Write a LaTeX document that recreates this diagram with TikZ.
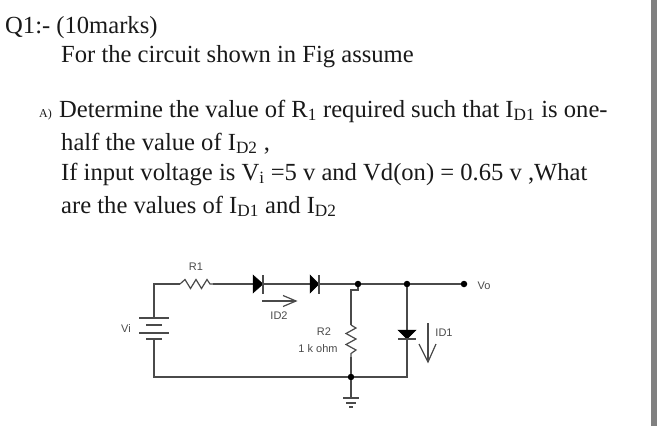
\documentclass[tikz,border=0pt]{standalone}
\usepackage{fontspec}
\setmainfont{Liberation Serif}
\newfontfamily\labelfont{Liberation Sans}
\usetikzlibrary{positioning,calc}
\definecolor{wire}{HTML}{4A4A4A}
\begin{document}
\begin{tikzpicture}[
        x=1pt, y=-1pt,
        txt/.style={anchor=base west, inner sep=0pt, font=\fontsize{24.6}{24.6}\selectfont, text=black!90},
        lbl/.style={inner sep=0pt, font=\labelfont\fontsize{11}{11}\selectfont, text=wire},
        dot/.style={circle, fill=black, inner sep=0pt, minimum size=6.5pt},
        wireline/.style={draw=wire, line width=1.2pt},
        solid diode/.style={fill=black, draw=black, line width=0.5pt}
    ]
        \useasboundingbox (0,0) rectangle (661,426);
        \fill[black!50] (651,0) rectangle (657,426);

        \node[txt] (title) at (5,33) {Q1:- (10marks)};
        \node[txt] (intro) at (61,62) {For the circuit shown in Fig assume};
        \node[txt, font=\fontsize{12}{12}\selectfont] (parta) at (39,117) {A)};
        \node[txt] (line1) at (59,117) {Determine the value of R\textsubscript{1} required such that I\textsubscript{D1} is one-};
        \node[txt] (line2) at (61,150) {half the value of I\textsubscript{D2} ,};
        \node[txt] (line3) at (61,180) {If input voltage is V\textsubscript{i} =5 v and Vd(on) = 0.65 v ,What};
        \node[txt] (line4) at (61,213) {are the values of I\textsubscript{D1} and I\textsubscript{D2}};

        \coordinate (topleft) at (154,284);
        \coordinate (botleft) at (154,377);
        \coordinate (rOnea) at (180,284);
        \coordinate (rOneb) at (213,284);
        \coordinate (rTwoa) at (351,325);
        \coordinate (rTwob) at (351,357);
        \coordinate (corner) at (351,290);
        \coordinate (batTop) at (154,318);
        \coordinate (batBot) at (154,339);
        \coordinate (gnd) at (351,398);
        \coordinate (botright) at (407,377);
        \node[dot] (jOne) at (358,284) {};
        \node[dot] (jTwo) at (407,284) {};
        \node[dot] (vout) at (464,284) {};
        \node[dot] (jBot) at (351,377) {};

        \draw[wireline] (batTop) -- (topleft) -- (rOnea);
        \draw[wireline] (rOnea) -- ++(5,-4.5) -- ++(5.5,9) -- ++(5.5,-9) -- ++(5.5,9) -- ++(5.5,-9) -- ++(3,4.5) -- (rOneb);
        \draw[wireline] (rOneb) -- (jOne) -- (jTwo) -- (vout);
        \draw[wireline] (jOne) -- (358,290) -- (corner) -- (rTwoa);
        \draw[wireline] (rTwoa) -- ++(5,3) -- ++(-10,5.5) -- ++(10,5.5) -- ++(-10,5.5) -- ++(10,5.5) -- ++(-5,3.5) -- (rTwob);
        \draw[wireline] (rTwob) -- (jBot) -- (gnd);
        \draw[wireline] (batBot) -- (botleft) -- (jBot) -- (botright) -- (jTwo);

        \draw[wireline] (139,318) -- (169,318);
        \draw[wireline] (146,325) -- (162,325);
        \draw[wireline] (139,333) -- (169,333);
        \draw[wireline] (146,339) -- (162,339);

        \draw[wireline] (343,398) -- (359,398);
        \draw[wireline] (346,403) -- (356,403);
        \draw[wireline] (349,407) -- (353,407);

        \fill[solid diode] (253,275) -- (263,284) -- (253,293) -- cycle;
        \draw[wireline] (263,275) -- (263,294);
        \fill[solid diode] (310,275) -- (319,284) -- (310,293) -- cycle;
        \draw[wireline] (319,275) -- (319,294);
        \fill[solid diode] (398,330) -- (416,330) -- (407,339) -- cycle;
        \draw[wireline] (398,339) -- (416,339);

        \draw[wireline] (262,301) -- (296,301);
        \draw[wireline] (283,295.5) -- (296,301) -- (283,306.5);
        \draw[wireline] (428,323) -- (428,362);
        \draw[wireline] (419,344) -- (428,362) -- (436,344);

        \node[lbl] (rOne) at (196,267) {R1};
        \node[lbl] (idTwo) at (279,316) {ID2};
        \node[lbl] (rTwo) at (324,332) {R2};
        \node[lbl] (rTwoval) at (318,349) {1 k ohm};
        \node[lbl] (idOne) at (444,333) {ID1};
        \node[lbl] (vo) at (484,286) {Vo};
        \node[lbl] (vi) at (126,329) {Vi};
    \end{tikzpicture}
\end{document}
